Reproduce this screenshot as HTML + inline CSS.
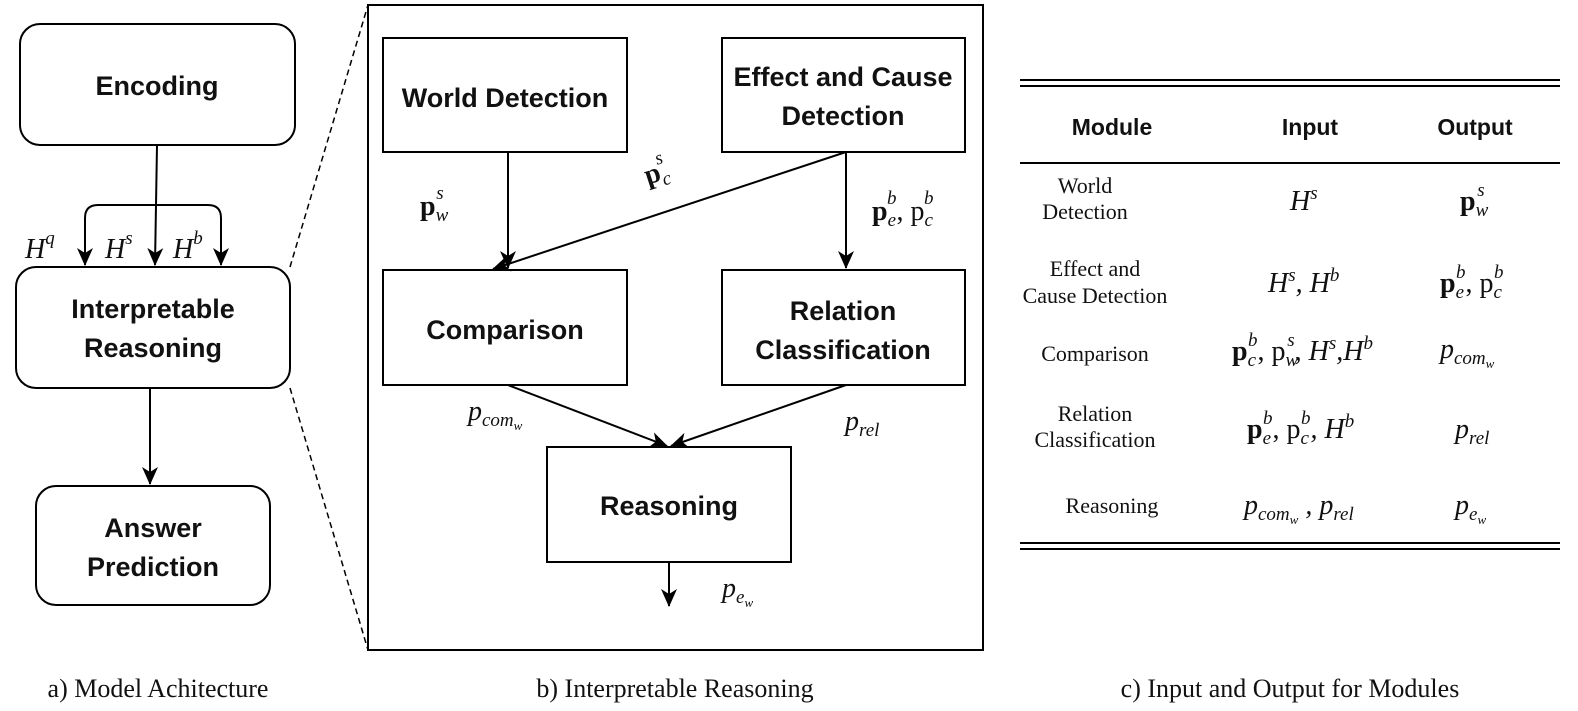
<!DOCTYPE html>
<html><head><meta charset="utf-8"><style>
html,body{margin:0;padding:0;background:#fff;}
svg{display:block;}
.b{font-family:"Liberation Sans",sans-serif;font-weight:bold;font-size:27px;fill:#111;text-anchor:middle;}
.m{font-family:"Liberation Serif",serif;font-style:italic;font-size:28px;fill:#111;}
.mb{font-family:"Liberation Serif",serif;font-weight:bold;font-size:28px;fill:#111;}
.s{font-family:"Liberation Serif",serif;font-style:italic;font-size:19px;}
.t{font-family:"Liberation Serif",serif;font-size:22px;fill:#111;text-anchor:middle;}
.h{font-family:"Liberation Sans",sans-serif;font-weight:bold;font-size:23px;fill:#111;text-anchor:middle;}
.c{font-family:"Liberation Serif",serif;font-size:26px;fill:#111;text-anchor:middle;}
</style></head><body>
<svg width="1578" height="711" viewBox="0 0 1578 711" xmlns="http://www.w3.org/2000/svg">
<defs>
<marker id="a2" markerWidth="18" markerHeight="16" refX="17" refY="8" orient="auto" markerUnits="userSpaceOnUse"><path d="M0,0 L18,8 L0,16 L5,8 z" fill="#000"/></marker></defs>
<g fill="none" stroke="#000" stroke-width="2">
<rect x="20" y="24" width="275" height="121" rx="20"/>
<rect x="16" y="267" width="274" height="121" rx="20"/>
<rect x="36" y="486" width="234" height="119" rx="20"/>
<line x1="157" y1="145" x2="155" y2="265" marker-end="url(#a2)"/>
<path d="M85,265 V218 Q85,205 98,205 H208 Q221,205 221,218 V265" marker-end="url(#a2)"/>
<line x1="85" y1="240" x2="85" y2="265" marker-end="url(#a2)"/>
<line x1="150" y1="388" x2="150" y2="484" marker-end="url(#a2)"/>
<line x1="290" y1="267" x2="368" y2="5" stroke-dasharray="6,4" stroke-width="1.5"/>
<line x1="290" y1="388" x2="368" y2="650" stroke-dasharray="6,4" stroke-width="1.5"/>
<rect x="368" y="5" width="615" height="645"/>
<rect x="383" y="38" width="244" height="114"/>
<rect x="722" y="38" width="243" height="114"/>
<rect x="383" y="270" width="244" height="115"/>
<rect x="722" y="270" width="243" height="115"/>
<rect x="547" y="447" width="244" height="115"/>
<line x1="508" y1="152" x2="508" y2="268" marker-end="url(#a2)"/>
<line x1="846" y1="152" x2="846" y2="268" marker-end="url(#a2)"/>
<line x1="846" y1="152" x2="493" y2="269" marker-end="url(#a2)"/>
<line x1="508" y1="385" x2="667" y2="446" marker-end="url(#a2)"/>
<line x1="846" y1="385" x2="671" y2="446" marker-end="url(#a2)"/>
<line x1="669" y1="562" x2="669" y2="606" marker-end="url(#a2)"/>
<line x1="1020" y1="80" x2="1560" y2="80"/><line x1="1020" y1="86" x2="1560" y2="86"/>
<line x1="1020" y1="163" x2="1560" y2="163"/>
<line x1="1020" y1="543" x2="1560" y2="543"/><line x1="1020" y1="549" x2="1560" y2="549"/>
</g>
<text class="b" x="157" y="95">Encoding</text>
<text class="b" x="153" y="318">Interpretable</text>
<text class="b" x="153" y="357">Reasoning</text>
<text class="b" x="153" y="537">Answer</text>
<text class="b" x="153" y="576">Prediction</text>
<text class="m" x="25" y="258" font-size="36">H<tspan class="s" font-size="24" dy="-14">q</tspan></text>
<text class="m" x="105" y="258" font-size="36">H<tspan class="s" font-size="24" dy="-14">s</tspan></text>
<text class="m" x="173" y="258" font-size="36">H<tspan class="s" font-size="24" dy="-14">b</tspan></text>
<text class="b" x="505" y="107">World Detection</text>
<text class="b" x="843" y="86">Effect and Cause</text>
<text class="b" x="843" y="125">Detection</text>
<text class="b" x="505" y="339">Comparison</text>
<text class="b" x="843" y="320">Relation</text>
<text class="b" x="843" y="359">Classification</text>
<text class="b" x="669" y="515">Reasoning</text>
<text class="mb" x="420" y="215" font-size="30">p<tspan class="s" dy="6" font-weight="normal">w</tspan><tspan class="s" dx="-12" dy="-22" font-weight="normal">s</tspan></text>
<text class="mb" x="645" y="182" font-size="30" transform="rotate(-18 655 175)">p<tspan class="s" dy="6" font-weight="normal">c</tspan><tspan class="s" dx="-9" dy="-22" font-weight="normal">s</tspan></text>
<text class="mb" x="872" y="220" font-size="30">p<tspan class="s" dy="6" font-weight="normal">e</tspan><tspan class="s" dx="-9" dy="-22" font-weight="normal">b</tspan><tspan dy="16" font-weight="normal">, p</tspan><tspan class="s" dy="6" font-weight="normal">c</tspan><tspan class="s" dx="-9" dy="-22" font-weight="normal">b</tspan></text>
<text class="m" x="468" y="420" font-size="30">p<tspan class="s" dy="6">com<tspan font-size="13" dy="4">w</tspan></tspan></text>
<text class="m" x="845" y="430" font-size="30">p<tspan class="s" dy="6">rel</tspan></text>
<text class="m" x="722" y="597" font-size="30">p<tspan class="s" dy="6">e<tspan font-size="13" dy="4">w</tspan></tspan></text>
<text class="h" x="1112" y="135">Module</text>
<text class="h" x="1310" y="135">Input</text>
<text class="h" x="1475" y="135">Output</text>
<text class="t" x="1085" y="193">World</text><text class="t" x="1085" y="219">Detection</text>
<text class="m" x="1290" y="210" font-size="26">H<tspan class="s" dy="-11">s</tspan></text>
<text class="mb" x="1460" y="210" font-size="26">p<tspan class="s" dy="6" font-weight="normal">w</tspan><tspan class="s" dx="-11" dy="-20" font-weight="normal">s</tspan></text>
<text class="t" x="1095" y="276">Effect and</text><text class="t" x="1095" y="303">Cause Detection</text>
<text class="m" x="1268" y="292" font-size="26">H<tspan class="s" dy="-11">s</tspan><tspan dy="11">, H</tspan><tspan class="s" dy="-11">b</tspan></text>
<text class="mb" x="1440" y="292" font-size="26">p<tspan class="s" dy="6" font-weight="normal">e</tspan><tspan class="s" dx="-8" dy="-20" font-weight="normal">b</tspan><tspan dy="14" font-weight="normal">, p</tspan><tspan class="s" dy="6" font-weight="normal">c</tspan><tspan class="s" dx="-8" dy="-20" font-weight="normal">b</tspan></text>
<text class="t" x="1095" y="361">Comparison</text>
<text class="mb" x="1232" y="360" font-size="26">p<tspan class="s" dy="6" font-weight="normal">c</tspan><tspan class="s" dx="-8" dy="-20" font-weight="normal">b</tspan><tspan dy="14" font-weight="normal">, p</tspan><tspan class="s" dy="6" font-weight="normal">w</tspan><tspan class="s" dx="-11" dy="-20" font-weight="normal">s</tspan><tspan dy="14" font-weight="normal" font-style="italic">, H</tspan><tspan class="s" font-weight="normal" dy="-11">s</tspan><tspan dy="11" font-weight="normal" font-style="italic">,H</tspan><tspan class="s" font-weight="normal" dy="-11">b</tspan></text>
<text class="m" x="1440" y="358" font-size="26">p<tspan class="s" dy="6">com<tspan font-size="13" dy="4">w</tspan></tspan></text>
<text class="t" x="1095" y="421">Relation</text><text class="t" x="1095" y="447">Classification</text>
<text class="mb" x="1247" y="438" font-size="26">p<tspan class="s" dy="6" font-weight="normal">e</tspan><tspan class="s" dx="-8" dy="-20" font-weight="normal">b</tspan><tspan dy="14" font-weight="normal">, p</tspan><tspan class="s" dy="6" font-weight="normal">c</tspan><tspan class="s" dx="-8" dy="-20" font-weight="normal">b</tspan><tspan dy="14" font-weight="normal" font-style="italic">,  H</tspan><tspan class="s" font-weight="normal" dy="-11">b</tspan></text>
<text class="m" x="1455" y="438" font-size="26">p<tspan class="s" dy="6">rel</tspan></text>
<text class="t" x="1112" y="513">Reasoning</text>
<text class="m" x="1244" y="514" font-size="26">p<tspan class="s" dy="6">com<tspan font-size="13" dy="4">w</tspan></tspan><tspan dy="-10"> , p</tspan><tspan class="s" dy="6">rel</tspan></text>
<text class="m" x="1455" y="514" font-size="26">p<tspan class="s" dy="6">e<tspan font-size="13" dy="4">w</tspan></tspan></text>
<text class="c" x="158" y="697">a) Model Achitecture</text>
<text class="c" x="675" y="697">b) Interpretable Reasoning</text>
<text class="c" x="1290" y="697">c) Input and Output for Modules</text>
</svg>
</body></html>
